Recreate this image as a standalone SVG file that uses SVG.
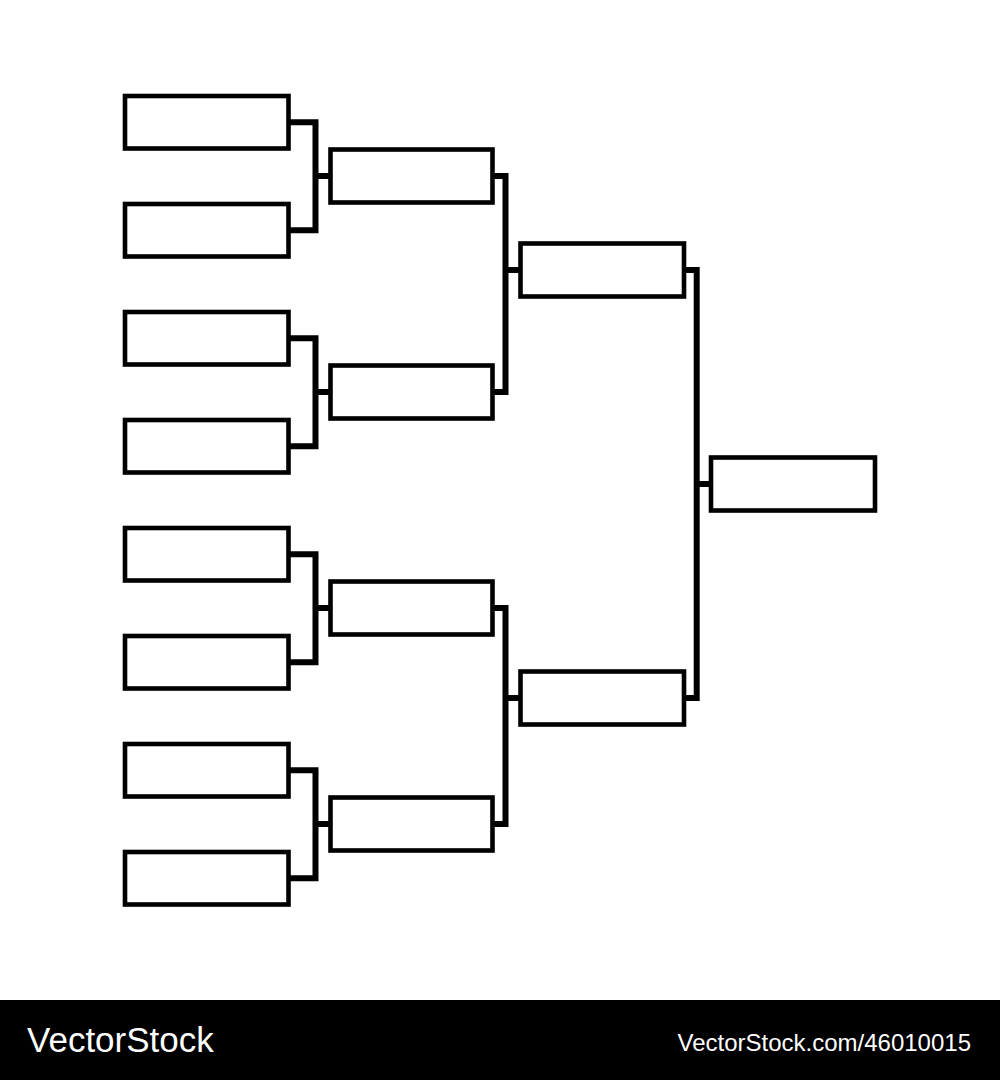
<svg xmlns="http://www.w3.org/2000/svg" width="1000" height="1080" viewBox="0 0 1000 1080">
<style>
.box{fill:#fff;stroke:#000;stroke-width:4.6}
.con{fill:none;stroke:#000;stroke-width:6;stroke-linejoin:miter;stroke-linecap:butt}
.wm{fill:#fff;font-family:"Liberation Sans",Arial,sans-serif}
</style>
<rect x="0" y="0" width="1000" height="1080" fill="#fff"/>
<g id="connectors">
<path class="con" d="M288.5 122.25H315.5V230.25H288.5M315.5 176H330.5"/>
<path class="con" d="M288.5 338.25H315.5V446.25H288.5M315.5 392H330.5"/>
<path class="con" d="M288.5 554.25H315.5V662.25H288.5M315.5 608H330.5"/>
<path class="con" d="M288.5 770.25H315.5V878.25H288.5M315.5 824H330.5"/>
<path class="con" d="M492.5 176H505.5V392H492.5M505.5 270H520.5"/>
<path class="con" d="M492.5 608H505.5V824H492.5M505.5 698H520.5"/>
<path class="con" d="M684 270H696.7V698H684M696.7 484H711"/>
</g>
<g id="r1-1"><rect class="box" x="125" y="96" width="163.5" height="52.5"/></g>
<g id="r1-2"><rect class="box" x="125" y="204" width="163.5" height="52.5"/></g>
<g id="r1-3"><rect class="box" x="125" y="312" width="163.5" height="52.5"/></g>
<g id="r1-4"><rect class="box" x="125" y="420" width="163.5" height="52.5"/></g>
<g id="r1-5"><rect class="box" x="125" y="528" width="163.5" height="52.5"/></g>
<g id="r1-6"><rect class="box" x="125" y="636" width="163.5" height="52.5"/></g>
<g id="r1-7"><rect class="box" x="125" y="744" width="163.5" height="52.5"/></g>
<g id="r1-8"><rect class="box" x="125" y="852" width="163.5" height="52.5"/></g>
<g id="r2-1"><rect class="box" x="330.5" y="149.5" width="162" height="53"/></g>
<g id="r2-2"><rect class="box" x="330.5" y="365.5" width="162" height="53"/></g>
<g id="r2-3"><rect class="box" x="330.5" y="581.5" width="162" height="53"/></g>
<g id="r2-4"><rect class="box" x="330.5" y="797.5" width="162" height="53"/></g>
<g id="r3-1"><rect class="box" x="520.5" y="243.5" width="163.5" height="53"/></g>
<g id="r3-2"><rect class="box" x="520.5" y="671.5" width="163.5" height="53"/></g>
<g id="final"><rect class="box" x="711" y="457.5" width="164" height="53"/></g>
<g id="footer">
<rect x="0" y="1000" width="1000" height="80" fill="#000"/>
<text class="wm" x="27" y="1052" font-size="35">VectorStock</text>
<text class="wm" x="971" y="1051" font-size="24" text-anchor="end">VectorStock.com/46010015</text>
</g>
</svg>
